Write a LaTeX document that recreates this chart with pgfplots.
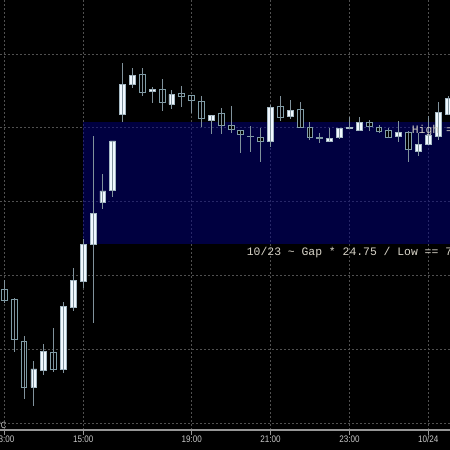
\documentclass[border=0pt]{standalone}
\usepackage{fontspec}
\setmainfont{Liberation Sans}
\newfontfamily\tickfont[FakeStretch=0.85]{Liberation Sans}
\newfontfamily\monofont{Liberation Mono}
\usepackage{pgfplots}
\pgfplotsset{compat=1.18}
\usepackage{pgfplotstable}

\definecolor{gridcol}{RGB}{80,80,80}
\definecolor{axiscol}{RGB}{150,150,150}
\definecolor{labcol}{RGB}{200,200,200}
\definecolor{wickcol}{RGB}{128,146,156}
\definecolor{bullfill}{RGB}{240,248,255}
\definecolor{bulledge}{RGB}{165,185,196}
\definecolor{bearedge}{RGB}{127,156,166}
\definecolor{gapcol}{RGB}{0,0,128}
\definecolor{txtcol}{RGB}{216,212,200}

% 15-minute candles, index i; prices in chart units
\pgfplotstableread{
i  o     h     l     c
0  160   170   146.7 149.3
1  150   152   98.3  110
2  108.3 114   50.7  62.7
3  62.7  89    44.3  81
4  80    106   75    98.3
5  97.7  122.3 78.3  80.7
6  80.7  147.7 76.7  143.3
7  142.7 181.7 139.3 169.3
8  169   211   161.7 205.7
9  205.7 314   126.7 236.7
10 247.3 276   240.7 259
11 260   309   253.3 309
12 336   386.7 327.7 365.7
13 366   381.7 361.7 374.3
14 375.7 381.7 354   357.7
15 358.3 362.7 347   360.7
16 360.7 370.7 339.3 347.3
17 345.7 360   340.7 355.7
18 356   364   343.3 353.3
19 354.3 354.3 337.3 349.3
20 348   354   323.3 331
21 329.7 334.3 316   334.3
22 336   342.3 316   324.3
23 324.3 344   317.3 320
24 319   319   297.3 315
25 313.7 324   298.3 313
26 312.7 322.3 288.3 308
27 308.7 345   302.7 342.3
28 343.7 354.3 329.3 332
29 333.7 349.7 330.7 339.7
30 340   347.7 322.3 322.3
31 322.3 327.7 310   312.3
32 312.7 317.3 306.7 311.3
33 308.7 321.7 308.7 311.3
34 312.3 321.7 311.3 321.7
35 322   332.7 321.7 322.5
36 320   332.7 319.3 327.3
37 327.7 330   319   323.7
38 322.7 324.7 317.3 318.3
39 319   321.7 312   312.7
40 314   329   308.3 317.7
41 317.7 319.3 288.3 300.7
42 299   316.7 294   305.7
43 305.7 334   305.7 315
44 314   348.3 310   337.7
45 336   354   335   351.7
}\candles

\begin{document}
\begin{tikzpicture}
\useasboundingbox (0,0) rectangle (450pt,450pt);
\clip (0,0) rectangle (450pt,450pt);
\fill[black] (0,0) rectangle (450pt,450pt);
\begin{axis}[
    at={(0pt,20pt)}, anchor=south west,
    scale only axis, width=450pt, height=430pt,
    xmin=-0.436, xmax=45.2,
    ymin=20, ymax=450,
    enlargelimits=false,
    ybar stacked, bar width=0.6,
    axis x line*=bottom, axis y line*=left,
    x axis line style={axiscol, line width=1.5pt},
    y axis line style={draw=none},
    xtick={0,8,19,27,35,43},
    xticklabels={13:00,15:00,19:00,21:00,23:00,10/24},
    tick style={axiscol, line width=1pt},
    tick align=outside, major tick length=5pt,
    xticklabel style={font=\tickfont\fontsize{9.5}{10}\selectfont, text=labcol, anchor=center, yshift=-4pt},
    ytick={27,100.8,174.6,248.4,322.2,396},
    yticklabels={},
    grid=major,
    major grid style={gridcol, line width=0.8pt, dash pattern=on 2pt off 2pt},
]
% invisible base = body bottom, with the wick as error bar
\addplot[draw=none, fill=none,
    error bars/.cd, y dir=both, y explicit,
    error mark=none, error bar style={draw=wickcol, line width=1pt, solid}]
    table[x=i, y expr={min(\thisrow{o},\thisrow{c})},
          y error plus expr={\thisrow{h}-min(\thisrow{o},\thisrow{c})},
          y error minus expr={min(\thisrow{o},\thisrow{c})-\thisrow{l}}] {\candles};
% rising candles
\addplot[fill=bullfill, draw=bulledge, line width=0.8pt]
    table[x=i, y expr={max(\thisrow{c}-\thisrow{o},0)}] {\candles};
% falling candles
\addplot[fill=black, draw=bearedge, line width=1pt]
    table[x=i, y expr={max(\thisrow{o}-\thisrow{c},0)}] {\candles};
% gap box
\fill[gapcol, fill opacity=0.5] (axis cs:8,206) rectangle (axis cs:47,328);
\end{axis}
\node[anchor=base west, inner sep=0, text=txtcol, font=\monofont\fontsize{11.4}{13}\selectfont]
    at (246.7pt,194pt) {10/23 \textasciitilde{} Gap * 24.75 / Low == 7};
\node[anchor=base west, inner sep=0, text=txtcol, font=\monofont\fontsize{11.4}{13}\selectfont]
    at (411.7pt,316pt) {High == 7};
\node[anchor=base east, inner sep=0, text=labcol, font=\tickfont\fontsize{9}{10}\selectfont]
    at (6.5pt,21.7pt) {UTC};
\end{tikzpicture}
\end{document}
